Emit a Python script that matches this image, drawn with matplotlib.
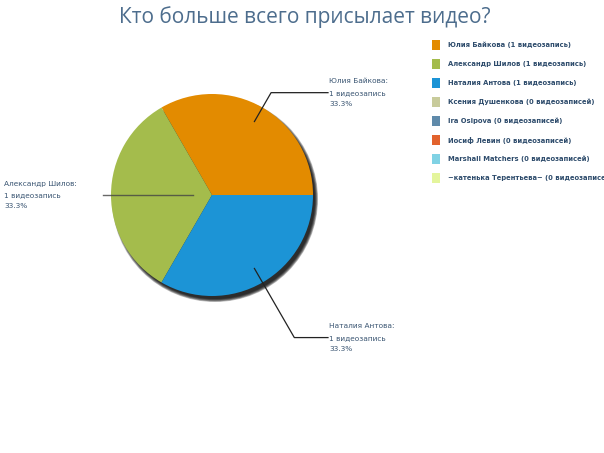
import matplotlib
matplotlib.use('Agg')
import matplotlib.pyplot as plt
from matplotlib.patches import Circle, Rectangle
import numpy as np

# data
names = ["Юлия Байкова", "Александр Шилов", "Наталия Антова", "Ксения Душенкова",
         "Ira Osipova", "Иосиф Левин", "Marshall Matchers", "~катенька Терентьева~"]
counts = [1, 1, 1, 0, 0, 0, 0, 0]
colors = ["#E38B00", "#A4BC4C", "#1C94D6", "#C8CB9B", "#5F8AAA", "#E2622D", "#80D2E4", "#E4F59C"]

title = "Кто больше всего присылает видео?"
txt_col = "#2E4C6C"

fig = plt.figure(figsize=(6.04, 4.53), dpi=100)
ax = fig.add_axes([0, 0, 1, 1])

cx, cy, r = 212, 195, 101

# soft shadow under the pie
for i in range(6):
    ax.add_patch(Circle((cx + 3, cy + 4), r + 2.0 - i * 0.6, color='black', alpha=0.25, lw=0, zorder=0))

vals = [c for c in counts if c > 0]
cols = [colors[i] for i, c in enumerate(counts) if c > 0]
labs = [names[i] for i, c in enumerate(counts) if c > 0]
wedges, _ = ax.pie(vals, colors=cols, startangle=0, counterclock=False, center=(cx, cy),
                   radius=r, wedgeprops=dict(lw=0, zorder=1))

ax.set_xlim(0, 604)
ax.set_ylim(453, 0)
ax.set_aspect('equal')
ax.axis('off')

# leader lines + labels: (start fraction of r, elbow fraction of r, text x, side)
layout = [(0.84, 1.17, 329, 'right'), (0.19, 1.08, 4, 'left'), (0.84, 1.63, 329, 'right')]
total = sum(vals)
for w, name, v, (k0, k1, tx, side) in zip(wedges, labs, vals, layout):
    ang = np.deg2rad((w.theta1 + w.theta2) / 2)
    dx, dy = np.cos(ang), np.sin(ang)
    x0, y0 = cx + k0 * r * dx, cy + k0 * r * dy
    x1, y1 = cx + k1 * r * dx, cy + k1 * r * dy
    label = f"{name}:\n{v} видеозапись\n{v / total * 100:.1f}%"
    if side == 'right':
        ax.plot([x0, x1, tx - 1], [y0, y1, y1], color='#222222', lw=0.9, zorder=3)
    else:
        ax.plot([x0, x1], [y0, y1], color='#444444', lw=1.0, alpha=0.8, zorder=3)
    ax.text(tx, y1, label, fontsize=5.3, color='#3A5572', va='center', ha='left',
            linespacing=2.05)

# legend
for i, (name, c, col) in enumerate(zip(names, counts, colors)):
    y = 45 + i * 19
    ax.add_patch(Rectangle((432, y - 5), 8, 10, color=col, lw=0))
    word = "видеозапись" if c == 1 else "видеозаписей"
    ax.text(448, y, f"{name} ({c} {word})", fontsize=4.9, fontweight='bold', color=txt_col,
            va='center', ha='left', clip_on=False)

fig.text(0.505, 0.962, title, ha='center', va='center', fontsize=15, color='#4D6D8D',
         family='Open Sans')

fig.savefig("out.png", dpi=100)
